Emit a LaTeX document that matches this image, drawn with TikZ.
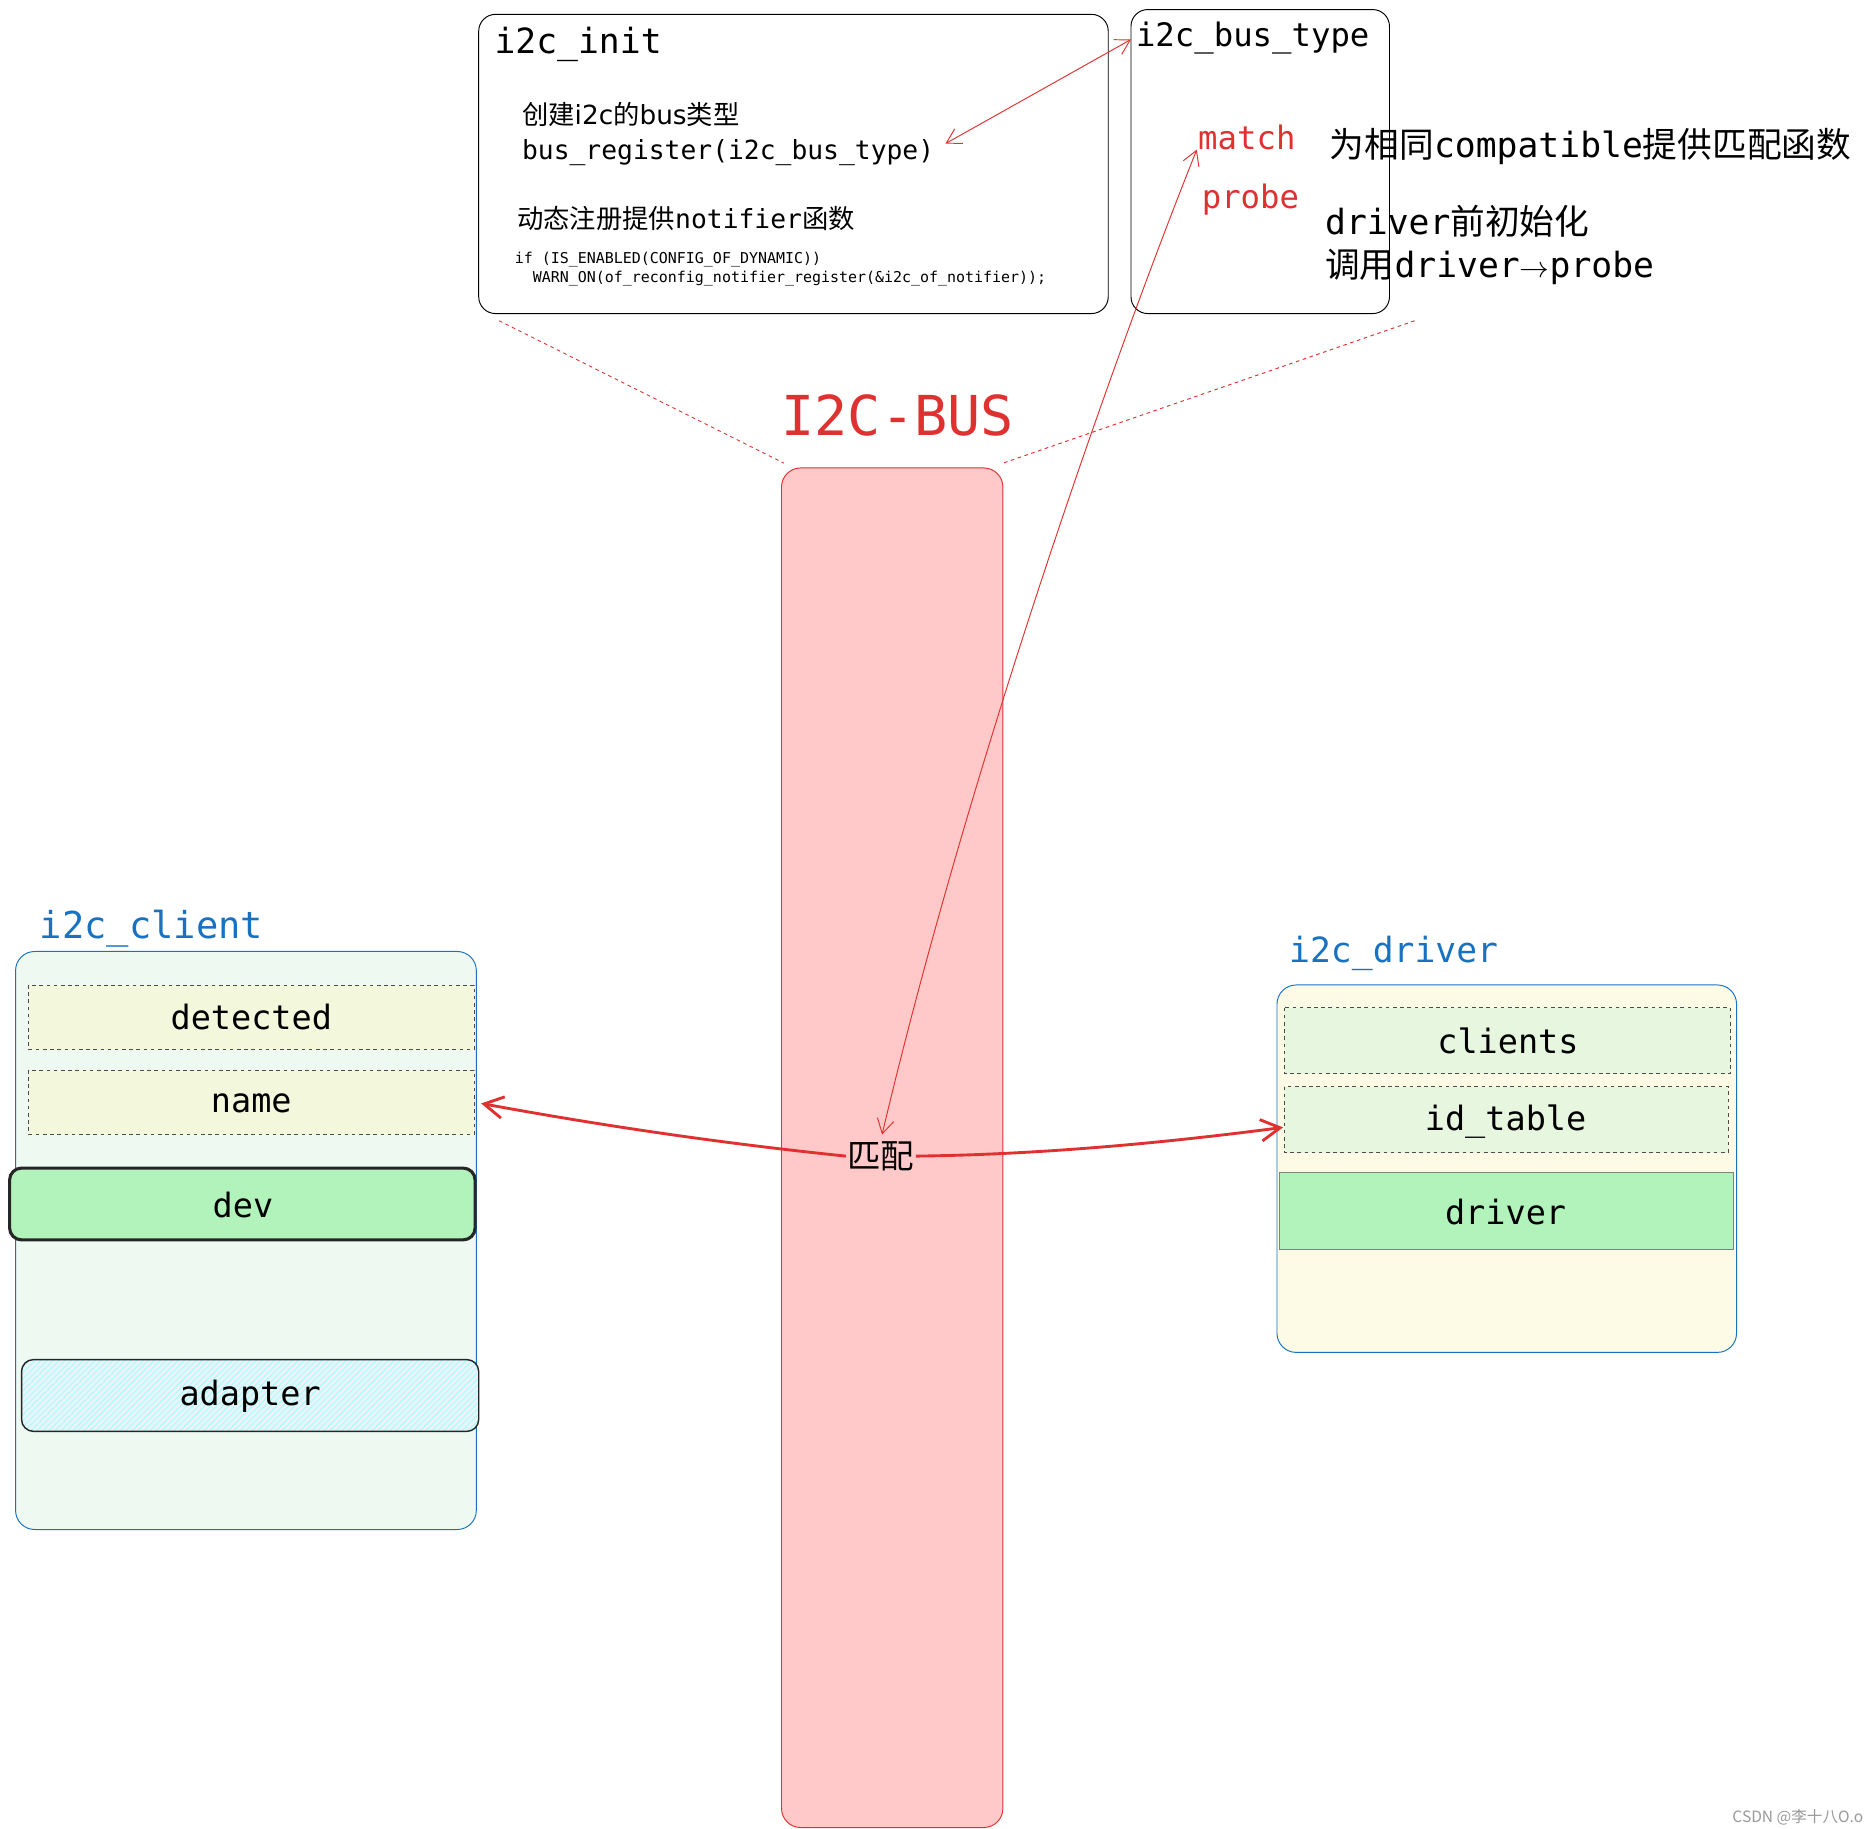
\documentclass[tikz,border=0pt]{standalone}
\usepackage{fontspec}
\setmainfont{DejaVu Sans Mono}
\newfontfamily\cjk{Noto Sans CJK SC}
\newfontfamily\msans{DejaVu Sans}
\newcommand{\C}[1]{{\cjk #1}}
\newcommand{\fs}[1]{\fontsize{#1}{#1}\selectfont}
\usetikzlibrary{arrows.meta,patterns.meta}
\definecolor{bred}{HTML}{E03131}
\definecolor{bblue}{HTML}{1971C2}
\definecolor{pink}{HTML}{FFC9C9}
\definecolor{lgreen}{HTML}{EEF9F1}
\definecolor{lyel}{HTML}{FDFBE6}
\definecolor{dgreen}{HTML}{B2F2BB}
\definecolor{fgyel}{HTML}{F3F7DC}
\definecolor{fgre}{HTML}{E6F6DF}
\definecolor{lblue}{HTML}{D6EEF5}
\begin{document}
\begin{tikzpicture}[x=1pt,y=-1pt,
  box/.style={draw=black,rounded corners=14pt,line width=0.8pt},
  fld/.style={draw=black!70,dashed,line width=0.6pt},
  t/.style={inner sep=0pt,anchor=base west},
  arr/.style={draw=bred,line width=0.8pt,-{Straight Barb[length=12pt,width=14pt]}},
  thick arr/.style={draw=bred,line width=2.4pt,-{Straight Barb[length=16pt,width=18pt]}}]
\useasboundingbox (0,0) rectangle (1560,1528);
% bus
\node[draw=bred,fill=pink,rounded corners=16pt,line width=0.8pt,minimum width=185pt,minimum height=1136pt,inner sep=0pt] (bus) at (745.5,959) {};
\node[text=bred,font=\fs{46}] (bustitle) at (750,347) {I2C-BUS};
\coordinate (dl1) at (417,268); \coordinate (dl2) at (655,387);
\coordinate (dr1) at (1182,268); \coordinate (dr2) at (838,387);
\draw[bred,dashed,line width=0.8pt] (dl1)--(dl2) (dr1)--(dr2);
% i2c_init
\draw[box] (400,12) rectangle (926,262);
\node[t,font=\fs{29}] (initt) at (413,45) {i2c\_init};
\node[t,font=\fs{22}] (l1) at (436,104) {\C{创建}{\msans i2c}\C{的}{\msans bus}\C{类型}};
\node[t,font=\fs{22}] (l2) at (436,133) {bus\_register(i2c\_bus\_type)};
\node[t,font=\fs{22}] (l3) at (432,191) {\C{动态注册提供}notifier\C{函数}};
\node[t,font=\fs{12.5}] (l4) at (430,220) {if (IS\_ENABLED(CONFIG\_OF\_DYNAMIC))};
\node[t,font=\fs{12.5}] (l5) at (430,236) {\ \ WARN\_ON(of\_reconfig\_notifier\_register(\&i2c\_of\_notifier));};
% i2c_bus_type
\draw[box] (945,8) rectangle (1161,262);
\node[t,font=\fs{27}] (bt) at (949,39) {i2c\_bus\_type};
\node[t,font=\fs{27},text=bred] (match) at (1001,125) {match};
\node[t,font=\fs{27},text=bred] (probe) at (1004,174) {probe};
\node[t,font=\fs{29}] (d1) at (1111,132) {\C{为相同}compatible\C{提供匹配函数}};
\node[t,font=\fs{29}] (d2) at (1107,196) {driver\C{前初始化}};
\node[t,font=\fs{29}] (d3) at (1107,232) {\C{调用}driver$\rightarrow$probe};
\coordinate (a1) at (790,120); \coordinate (a2) at (945,33);
\draw[arr,{Straight Barb[length=12pt,width=14pt]}-{Straight Barb[length=12pt,width=14pt]}] (a1)--(a2);
% match arrow
\node[font=\cjk\fs{28},inner sep=1pt] (pp) at (736,966) {匹配};
\coordinate (m1) at (1000,125); \coordinate (m2) at (737,948);
\draw[arr,{Straight Barb[length=12pt,width=14pt]}-{Straight Barb[length=12pt,width=14pt]}] (m1) .. controls (930,300) and (810,640) .. (m2);
% client
\node[t,font=\fs{31},text=bblue] (ct) at (33,784) {i2c\_client};
\draw[draw=bblue,fill=lgreen,rounded corners=16pt,line width=0.8pt] (13,795) rectangle (398,1278);
\draw[fld,fill=fgyel] (24,823) rectangle (396,877);
\node[font=\fs{28}] (det) at (210,850) {detected};
\draw[fld,fill=fgyel] (24,894) rectangle (396,948);
\node[font=\fs{28}] (name) at (210,922) {name};
\draw[draw=black!85,fill=dgreen,rounded corners=10pt,line width=2.6pt] (8,976) rectangle (397,1036);
\node[font=\fs{28}] (dev) at (203,1007) {dev};
\fill[lblue!60,rounded corners=10pt] (18,1136) rectangle (400,1196);
\draw[draw=black!85,pattern={Lines[angle=45,distance=4pt,line width=0.6pt]},pattern color=cyan!45,rounded corners=10pt,line width=1.2pt] (18,1136) rectangle (400,1196);
\node[font=\fs{28}] (ad) at (209,1167) {adapter};
% driver
\node[t,font=\fs{29},text=bblue] (dt) at (1077,804) {i2c\_driver};
\draw[draw=bblue,fill=lyel,rounded corners=16pt,line width=0.8pt] (1067,823) rectangle (1451,1130);
\draw[fld,fill=fgre] (1073,842) rectangle (1446,897);
\node[font=\fs{28}] (cl) at (1260,870) {clients};
\draw[fld,fill=fgre] (1073,908) rectangle (1444,963);
\node[font=\fs{28}] (idt) at (1258,937) {id\_table};
\draw[draw=black!50,fill=dgreen,line width=0.8pt] (1069,980) rectangle (1448,1044);
\node[font=\fs{28}] (drv) at (1258,1013) {driver};
% thick arrows
\coordinate (nameR) at (402,922); \coordinate (idL) at (1072,942);
\draw[thick arr] (pp.west) .. controls (600,955) and (500,940) .. (nameR);
\draw[thick arr] (pp.east) .. controls (850,965) and (950,958) .. (idL);
\node[anchor=south east,font=\cjk\fs{13},text=black!40,inner sep=3pt] (wm) at (1560,1528) {CSDN @李十八O.o};
\end{tikzpicture}
\end{document}
